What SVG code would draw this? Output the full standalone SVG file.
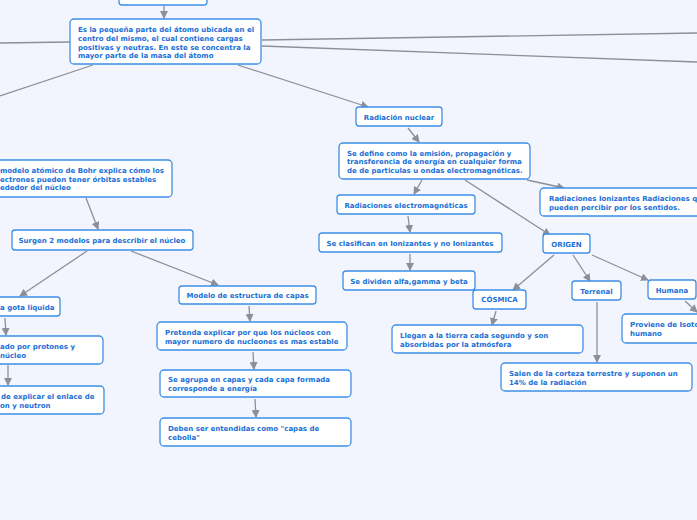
<svg xmlns="http://www.w3.org/2000/svg" width="697" height="520" viewBox="0 0 697 520">
<defs>
<style>
.b{fill:#fff;stroke:#3d8fe6;stroke-width:1.3}
text{font-family:"DejaVu Sans",Verdana,sans-serif;font-weight:bold;font-size:7px;fill:#1a6fd6}
.c{text-anchor:middle}
.l{fill:none;stroke:#8a8f99;stroke-width:1.3}
.a{marker-end:url(#m)}
</style>
<marker id="m" markerWidth="8" markerHeight="8" refX="7" refY="4" orient="auto" markerUnits="userSpaceOnUse"><path d="M0,0L8,4L0,8z" fill="#8a8f99"/></marker>
</defs>
<rect width="697" height="520" fill="#f2f5fe"/>
<g id="connectors">
<path class="l a" d="M164,6L164,18"/>
<path class="l" d="M70,42L0,43"/>
<path class="l" d="M262,40L697,33"/>
<path class="l" d="M262,46L697,62"/>
<path class="l" d="M93,65L0,96"/>
<path class="l a" d="M238,65L368,107"/>
<path class="l a" d="M86,198L98,229"/>
<path class="l a" d="M87,251L20,296"/>
<path class="l a" d="M131,251L218,285"/>
<path class="l a" d="M5,318L6,335"/>
<path class="l a" d="M8,365L8,385"/>
<path class="l a" d="M249,306L250,321"/>
<path class="l a" d="M253,352L254,369"/>
<path class="l a" d="M255,399L256,417"/>
<path class="l a" d="M408,128L419,142"/>
<path class="l a" d="M422,180L414,194"/>
<path class="l a" d="M408,216L410,232"/>
<path class="l a" d="M410,254L410,270"/>
<path class="l a" d="M465,180L550,235"/>
<path class="l a" d="M527,180L564,188"/>
<path class="l a" d="M554,255L513,290"/>
<path class="l a" d="M573,255L590,281"/>
<path class="l a" d="M592,255L648,280"/>
<path class="l a" d="M496,311L492,325"/>
<path class="l a" d="M597,302L597,362"/>
<path class="l a" d="M685,301L697,312"/>
</g>
<g id="top"><rect class="b" x="119" y="-10" width="88" height="15" rx="3"/></g>
<g id="nucleo"><rect class="b" x="70" y="19" width="191" height="45" rx="4"/>
<text x="78" y="32">Es la pequeña parte del átomo ubicada en el</text>
<text x="78" y="41">centro del mismo, el cual contiene cargas</text>
<text x="78" y="49.5">positivas y neutras. En este se concentra la</text>
<text x="78" y="58">mayor parte de la masa del átomo</text></g>
<g id="bohr"><rect class="b" x="-5" y="160" width="177" height="37" rx="4"/>
<text x="0" y="173">modelo atómico de Bohr explica cómo los</text>
<text x="0" y="182">ectrones pueden tener órbitas estables</text>
<text x="0" y="190">ededor del núcleo</text></g>
<g id="surgen"><rect class="b" x="12" y="230" width="181" height="20" rx="3"/>
<text class="c" x="102" y="243">Surgen 2 modelos para describir el núcleo</text></g>
<g id="gota"><rect class="b" x="-10" y="297" width="70" height="19" rx="3"/>
<text x="0" y="310">a gota liquida</text></g>
<g id="formado"><rect class="b" x="-10" y="336" width="113" height="28" rx="4"/>
<text x="0" y="349">ado por protones y</text>
<text x="0" y="358">núcleo</text></g>
<g id="enlace"><rect class="b" x="-10" y="386" width="114" height="28" rx="4"/>
<text x="1" y="399">de explicar el enlace de</text>
<text x="0" y="408">on y neutron</text></g>
<g id="capas"><rect class="b" x="179" y="286" width="137" height="18" rx="3"/>
<text class="c" x="247.5" y="298">Modelo de estructura de capas</text></g>
<g id="pretenda"><rect class="b" x="157" y="322" width="190" height="28" rx="4"/>
<text x="165" y="335">Pretenda explicar por que los núcleos con</text>
<text x="165" y="344">mayor numero de nucleones es mas estable</text></g>
<g id="agrupa"><rect class="b" x="160" y="370" width="191" height="27" rx="4"/>
<text x="168" y="382">Se agrupa en capas y cada capa formada</text>
<text x="168" y="391">corresponde a energía</text></g>
<g id="cebolla"><rect class="b" x="160" y="418" width="191" height="28" rx="4"/>
<text x="168" y="431">Deben ser entendidas como "capas de</text>
<text x="168" y="440">cebolla"</text></g>
<g id="radnuc"><rect class="b" x="356" y="107" width="86" height="19" rx="3"/>
<text class="c" x="399" y="120">Radiación nuclear</text></g>
<g id="define"><rect class="b" x="339" y="143" width="191" height="36" rx="4"/>
<text x="347" y="156">Se define como la emisión, propagación y</text>
<text x="347" y="164">transferencia de energía en cualquier forma</text>
<text x="347" y="173">de de particulas u ondas electromagnéticas.</text></g>
<g id="electro"><rect class="b" x="337" y="195" width="138" height="19" rx="3"/>
<text class="c" x="406" y="208">Radiaciones electromagnéticas</text></g>
<g id="clasif"><rect class="b" x="319" y="233" width="183" height="19" rx="3"/>
<text class="c" x="410" y="246">Se clasifican en Ionizantes y no Ionizantes</text></g>
<g id="dividen"><rect class="b" x="343" y="271" width="132" height="19" rx="3"/>
<text class="c" x="409" y="284">Se dividen alfa,gamma y beta</text></g>
<g id="ionizantes"><rect class="b" x="540" y="188" width="170" height="28" rx="4"/>
<text x="549" y="201">Radiaciones Ionizantes Radiaciones que</text>
<text x="549" y="210">pueden percibir por los sentidos.</text></g>
<g id="origen"><rect class="b" x="543" y="234" width="47" height="19" rx="3"/>
<text class="c" x="566.5" y="247">ORIGEN</text></g>
<g id="cosmica"><rect class="b" x="473" y="290" width="53" height="19" rx="3"/>
<text class="c" x="499.5" y="302">CÓSMICA</text></g>
<g id="llegan"><rect class="b" x="392" y="325" width="191" height="28" rx="4"/>
<text x="400" y="338">Llegan a la tierra cada segundo y son</text>
<text x="400" y="347">absorbidas por la atmósfera</text></g>
<g id="terrenal"><rect class="b" x="572" y="281" width="49" height="19" rx="3"/>
<text class="c" x="596.5" y="294">Terrenal</text></g>
<g id="salen"><rect class="b" x="501" y="363" width="191" height="28" rx="4"/>
<text x="509" y="376">Salen de la corteza terrestre y suponen un</text>
<text x="509" y="385">14% de la radiación</text></g>
<g id="humana"><rect class="b" x="648" y="280" width="48" height="19" rx="3"/>
<text class="c" x="672" y="293">Humana</text></g>
<g id="proviene"><rect class="b" x="622" y="314" width="90" height="29" rx="4"/>
<text x="630" y="327">Proviene de Isotopos</text>
<text x="630" y="336">humano</text></g>
</svg>
